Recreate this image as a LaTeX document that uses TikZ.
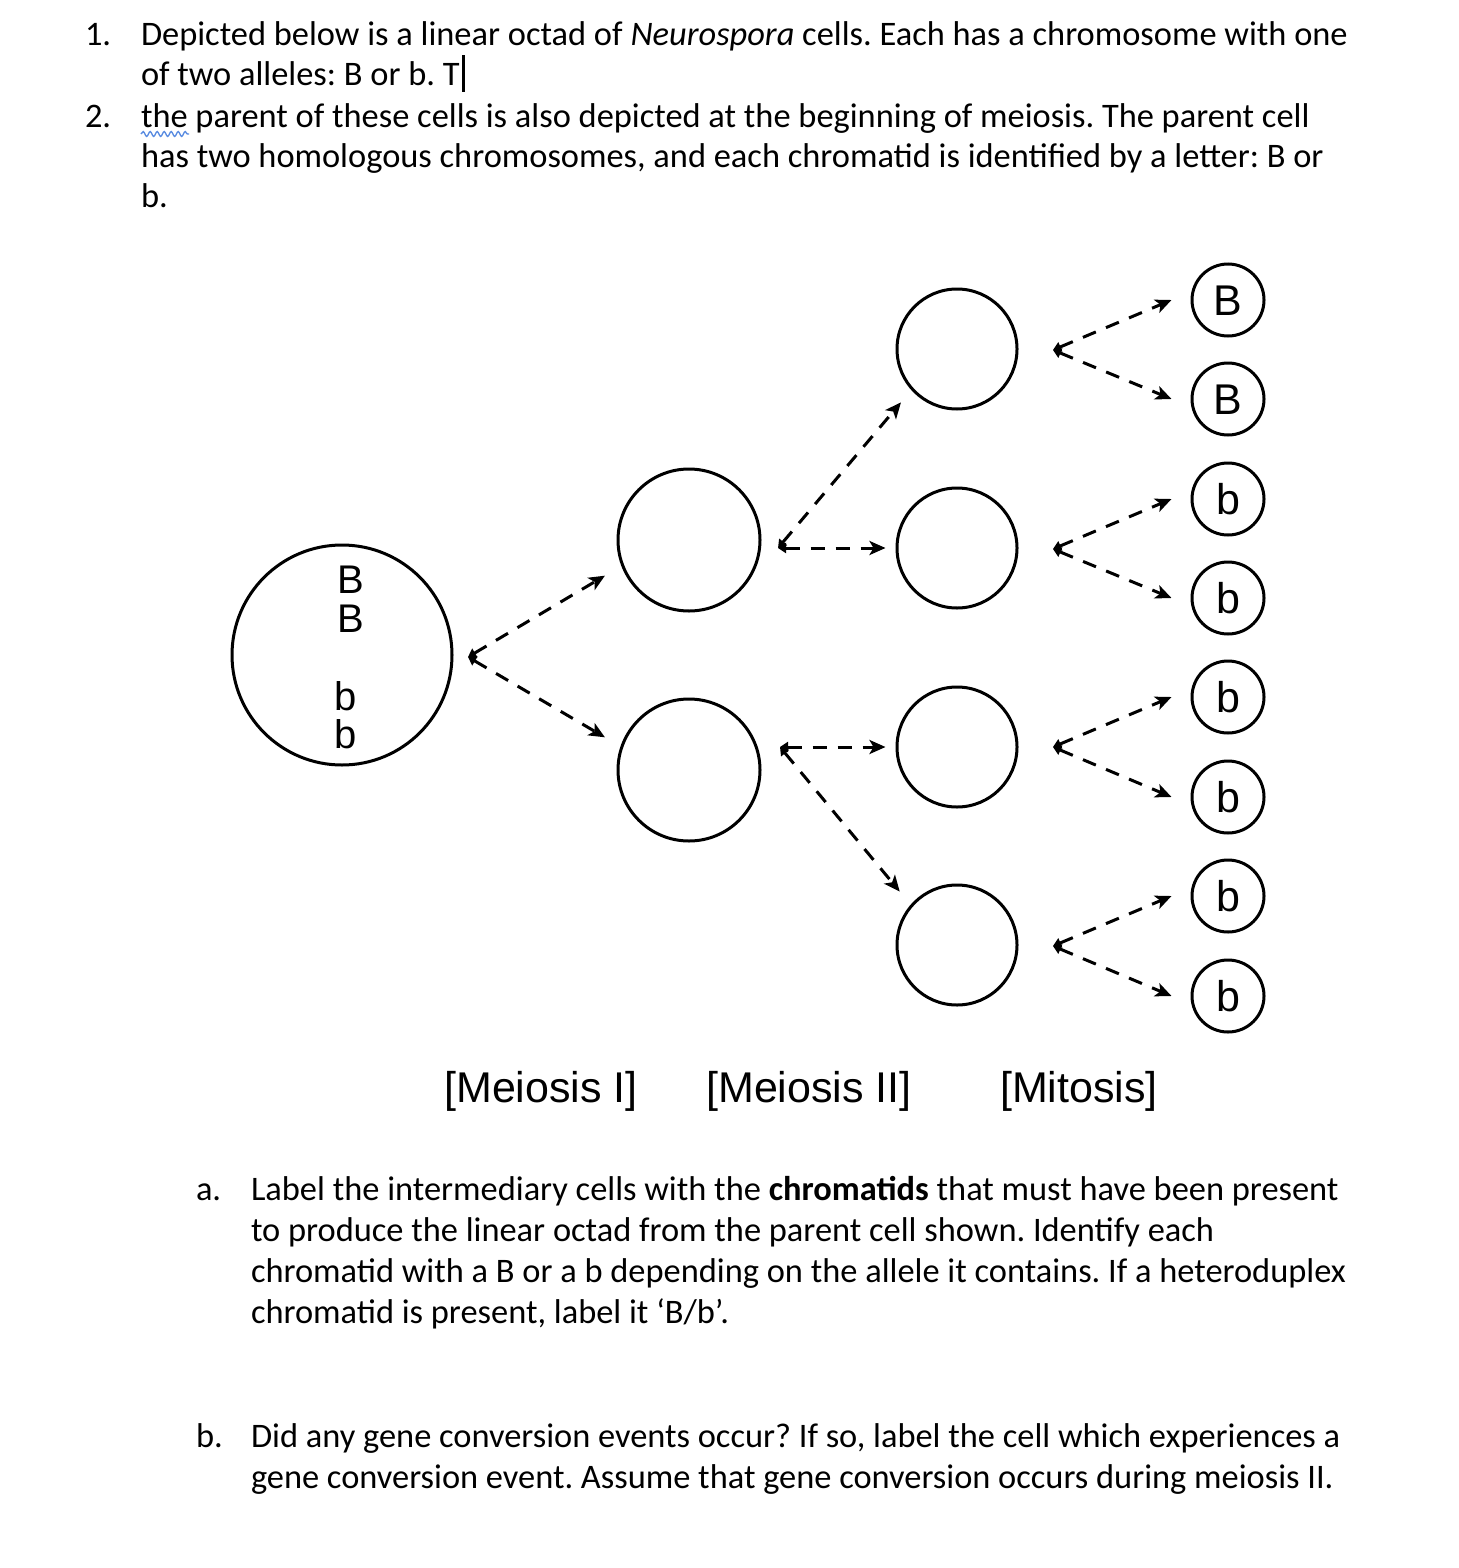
\documentclass[tikz,border=0pt]{standalone}
\usepackage{fontspec}
\setmainfont{Carlito}
\newfontfamily\arialf{Liberation Sans}
\usetikzlibrary{arrows.meta,decorations.pathmorphing}
\definecolor{wavyblue}{RGB}{90,140,225}
\frenchspacing
\begin{document}
\begin{tikzpicture}[x=0.5pt,y=-0.5pt,
  txt/.style={anchor=base west,inner sep=0pt,outer sep=0pt,font=\fontsize{17.2pt}{20pt}\selectfont},
  stage/.style={anchor=base,inner sep=0pt,font=\arialf\fontsize{21.5pt}{24pt}\selectfont},
  cellbox/.style={circle,draw,line width=1.5pt,inner sep=0pt},
  parentcell/.style={cellbox,minimum size=110pt},
  mOne/.style={cellbox,minimum size=71pt},
  mTwo/.style={cellbox,minimum size=60pt},
  spore/.style={cellbox,minimum size=36pt,font=\arialf\fontsize{21.5pt}{24pt}\selectfont,text height=15.4pt,text depth=0pt},
  allele/.style={inner sep=0pt,anchor=base,font=\arialf\fontsize{20pt}{22pt}\selectfont},
  conn/.style={draw,line width=1.5pt,dash pattern=on 7pt off 5.5pt,
    {Triangle[length=4pt,width=5pt]}-{Stealth[length=8pt,width=7pt,inset=2pt]}},
  wavy/.style={draw=wavyblue,line width=0.7pt,decorate,decoration={snake,amplitude=1.2pt,segment length=3.5pt}}
]
\useasboundingbox (0,0) rectangle (1459,1568);

% ---------- header text ----------
\node[txt] (n1) at (85,46) {1.};
\node[txt] (l1) at (141,46) {Depicted below is a linear octad of \textit{Neurospora} cells. Each has a chromosome with one};
\node[txt] (l2) at (141,86) {of two alleles: B or b. T};
\node[anchor=south west,fill=black,inner sep=0pt,minimum width=1.5pt,minimum height=18.5pt] (cursor) at ([xshift=1pt,yshift=-3pt]l2.base east) {};
\node[txt] (n2) at (85,127) {2.};
\node[txt] (l3) at (141,127) {the parent of these cells is also depicted at the beginning of meiosis. The parent cell};
\draw[wavy] ([yshift=-3.5pt]l3.base west) -- ([xshift=24pt,yshift=-3.5pt]l3.base west);
\node[txt] (l4) at (141,167) {has two homologous chromosomes, and each chromatid is identified by a letter: B or};
\node[txt] (l5) at (141,207) {b.};

% ---------- cells ----------
\node[parentcell] (P) at (342,655) {};
\node[allele] (a1) at (351,593) {B};
\node[allele] (a2) at (351,632) {B};
\node[allele] (a3) at (346,710) {b};
\node[allele] (a4) at (346,748) {b};

\node[mOne] (M1a) at (689,540) {};
\node[mOne] (M1b) at (689,770) {};

\node[mTwo] (M2a) at (957,349) {};
\node[mTwo] (M2b) at (957,548) {};
\node[mTwo] (M2c) at (957,747) {};
\node[mTwo] (M2d) at (957,945) {};

\node[spore] (S1) at (1228,300) {B};
\node[spore] (S2) at (1228,399) {B};
\node[spore] (S3) at (1228,499) {b};
\node[spore] (S4) at (1228,598) {b};
\node[spore] (S5) at (1228,697) {b};
\node[spore] (S6) at (1228,797) {b};
\node[spore] (S7) at (1228,896) {b};
\node[spore] (S8) at (1228,996) {b};

% ---------- fork points ----------
\coordinate (p0) at (468,657);
\coordinate (q1) at (778,548);
\coordinate (q2) at (780,747);
\coordinate (r1) at (1053,350);
\coordinate (r2) at (1053,549);
\coordinate (r3) at (1053,747);
\coordinate (r4) at (1053,946);

% ---------- connectors ----------
\draw[conn,shorten >=9.5pt] (p0) -- (M1a.201);
\draw[conn,shorten >=9pt] (p0) -- (M1b.161);
\draw[conn,shorten >=8pt] (q1) -- (M2a.222);
\draw[conn,shorten >=5pt] (q1) -- (M2b);
\draw[conn,shorten >=5pt] (q2) -- (M2c);
\draw[conn,shorten >=8.5pt] (q2) -- (M2d.139);
\draw[conn] (r1) -- ([xshift=-9.5pt]S1.west);
\draw[conn] (r1) -- ([xshift=-9.5pt]S2.west);
\draw[conn] (r2) -- ([xshift=-9.5pt]S3.west);
\draw[conn] (r2) -- ([xshift=-9.5pt]S4.west);
\draw[conn] (r3) -- ([xshift=-9.5pt]S5.west);
\draw[conn] (r3) -- ([xshift=-9.5pt]S6.west);
\draw[conn] (r4) -- ([xshift=-9.5pt]S7.west);
\draw[conn] (r4) -- ([xshift=-9.5pt]S8.west);

% ---------- stage labels ----------
\node[stage] (st1) at (541,1102) {[Meiosis I]};
\node[stage] (st2) at (809,1102) {[Meiosis II]};
\node[stage] (st3) at (1079,1102) {[Mitosis]};

% ---------- questions ----------
\node[txt] (qa) at (196,1200) {a.};
\node[txt] (qa1) at (251,1200) {Label the intermediary cells with the \textbf{chromatids} that must have been present};
\node[txt] (qa2) at (251,1241) {to produce the linear octad from the parent cell shown. Identify each};
\node[txt] (qa3) at (251,1282) {chromatid with a B or a b depending on the allele it contains. If a heteroduplex};
\node[txt] (qa4) at (251,1323) {chromatid is present, label it ‘B/b’.};
\node[txt] (qb) at (196,1447) {b.};
\node[txt] (qb1) at (251,1447) {Did any gene conversion events occur? If so, label the cell which experiences a};
\node[txt] (qb2) at (251,1488) {gene conversion event. Assume that gene conversion occurs during meiosis II.};
\end{tikzpicture}
\end{document}
